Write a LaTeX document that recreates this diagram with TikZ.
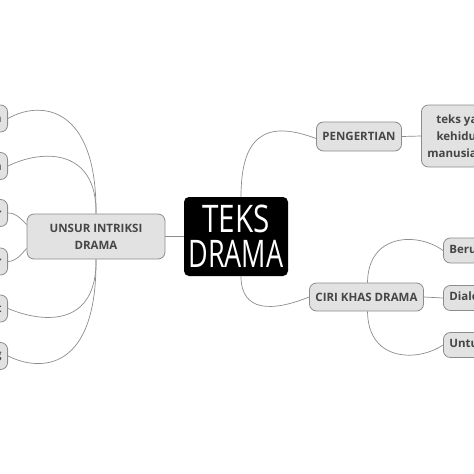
\documentclass[tikz,border=0pt]{standalone}
\usepackage{fontspec}
\setmainfont{Open Sans}
\usepackage{tikz}

\definecolor{boxfill}{RGB}{226,226,226}
\definecolor{boxline}{RGB}{140,140,140}
\definecolor{boxtext}{RGB}{70,70,70}

\begin{document}
\begin{tikzpicture}
[x=1pt,y=-1pt]
\tikzset{topic/.style={draw=boxline,fill=boxfill,rounded corners=7pt,line width=.8pt,
  text=boxtext,font=\fontsize{11.5}{17}\selectfont\bfseries,align=center,inner xsep=6pt}}
\tikzset{leaf/.style={topic,minimum height=27pt}}
\tikzset{link/.style={draw=boxline,line width=.7pt}}
\useasboundingbox (0,0) rectangle (474,474);
\clip (0,0) rectangle (474,474);

\node [fill=black,rounded corners=5pt,minimum width=104pt,minimum height=79pt,
  text=white,align=center,font=\fontsize{38}{36}\selectfont] (drama) at (236,236.5)
  {\scalebox{.78}[1]{TEKS}\\[-1pt]\scalebox{.71}[1]{DRAMA}};

\node [topic,minimum width=138pt,minimum height=45pt] (unsur) at (96,236.5) {UNSUR INTRIKSI\\DRAMA};
\node [topic,minimum width=84pt,minimum height=29pt] (peng) at (359,136.5) {PENGERTIAN};
\node [topic,minimum height=62pt,anchor=west] (arti) at (421,136)
  {teks yang melukiskan\\kehidupan dan watak\\manusia melalui tuturan};
\node [topic,minimum width=113pt,minimum height=28pt] (ciri) at (366.5,297) {CIRI KHAS DRAMA};

\node [leaf,anchor=west,minimum height=25pt] (c1) at (443,250.5) {Berupa dialog};
\node [leaf,anchor=west,minimum height=25pt] (c2) at (443,298) {Dialognya hidup};
\node [leaf,anchor=west,minimum height=25pt] (c3) at (443,345) {Untuk dipentaskan};

\node [leaf,anchor=east] (u1) at (8,118.5) {Tema};
\node [leaf,anchor=east] (u2) at (8,166) {Tokoh};
\node [leaf,anchor=east] (u3) at (8,213) {Alur};
\node [leaf,anchor=east] (u4) at (8,261.5) {Latar};
\node [leaf,anchor=east] (u5) at (8,308.5) {Amanat};
\node [leaf,anchor=east] (u6) at (8,356) {Dialog};

% main branches
\draw [link] (unsur.east) -- (drama.west);
\draw [link] ([xshift=5pt]drama.north) .. controls (241,140) and (262,118) .. ([yshift=-2pt]peng.west);
\draw [link] ([xshift=5pt]drama.south) .. controls (241,312) and (272,312) .. (ciri.west);
\draw [link] (peng.east) -- (arti.west);

% ciri khas
\draw [link] ([xshift=1pt]ciri.north) .. controls (368,233) and (418,232) .. (c1.west);
\draw [link] (ciri.east) -- (c2.west);
\draw [link] ([xshift=1pt]ciri.south) .. controls (368,362) and (418,362) .. (c3.west);

% unsur intrinsik
\draw [link] (unsur.north) .. controls (97,105) and (40,100) .. (u1.east);
\draw [link] (unsur.north) .. controls (97,150) and (45,148) .. (u2.east);
\draw [link] ([yshift=12pt]unsur.west) .. controls (20,218) and (16,213) .. (u3.east);
\draw [link] ([yshift=-12pt]unsur.west) .. controls (20,256) and (16,261) .. (u4.east);
\draw [link] (unsur.south) .. controls (97,326) and (45,324) .. (u5.east);
\draw [link] (unsur.south) .. controls (97,372) and (40,372) .. (u6.east);
\end{tikzpicture}
\end{document}
